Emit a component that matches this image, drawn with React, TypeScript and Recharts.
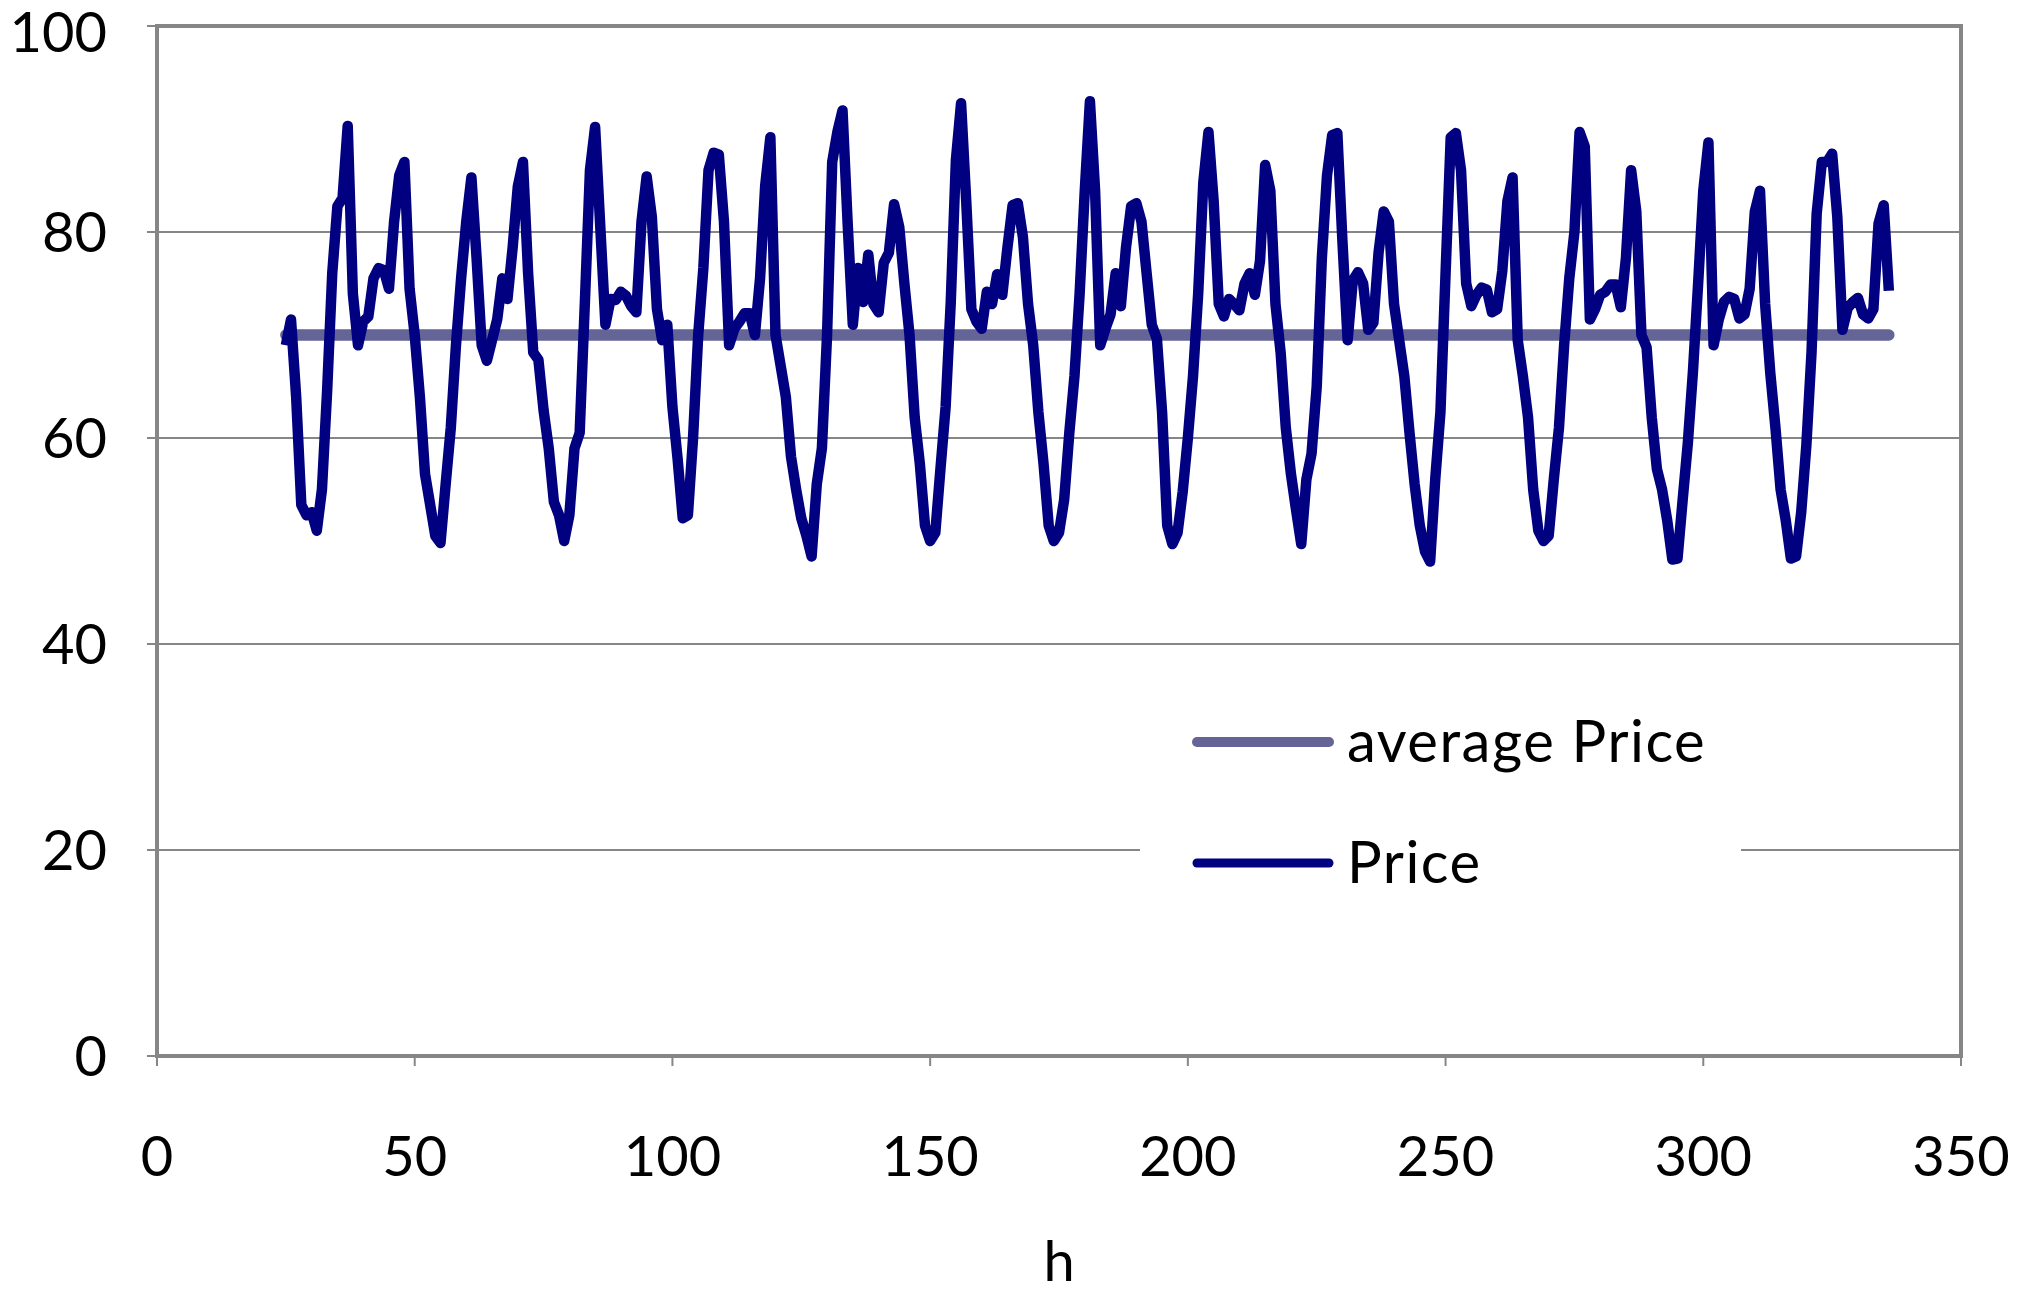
import React from 'react';
import {
  CartesianGrid, Legend, Line, LineChart, ReferenceArea, XAxis, YAxis,
} from 'recharts';

const firstHour = 25;

// hourly price, h = 25 … 336
const priceValues = [
  69, 71.5, 64, 53.5, 52.5, 52.8, 51, 55, 64.5, 76,
  82.5, 83.3, 90.3, 74, 69, 71.3, 71.8, 75.5, 76.5, 76.3,
  74.5, 81, 85.5, 86.8, 74.5, 70, 64, 56.5, 53.5, 50.5,
  49.8, 55.5, 61, 69, 75.5, 81, 85.3, 77.5, 69, 67.5,
  69.5, 71.5, 75.5, 73.5, 78.5, 84.4, 86.8, 76, 68.3, 67.6,
  62.7, 59, 53.8, 52.5, 50, 52.5, 59, 60.5, 73, 86,
  90.2, 80.5, 71, 73.5, 73.4, 74.2, 73.8, 72.8, 72.2, 81,
  85.4, 81.5, 72.5, 69.5, 71, 63, 58, 52.2, 52.5, 60,
  70, 76.5, 86, 87.7, 87.5, 81, 69, 70.6, 71.3, 72.1,
  72.1, 70, 75.5, 84.5, 89.2, 70, 67, 64, 58.2, 55,
  52.2, 50.5, 48.5, 55.5, 59, 70, 86.8, 89.7, 91.8, 80.8,
  71, 76.5, 73.2, 77.8, 73, 72.2, 77, 78, 82.7, 80.5,
  75, 70, 62, 57.5, 51.5, 50, 50.8, 57, 63, 73.2,
  87, 92.5, 83, 72.5, 71.3, 70.6, 74.2, 73, 75.9, 73.9,
  78.5, 82.6, 82.8, 79.5, 73, 69, 62.5, 57.5, 51.5, 50,
  50.8, 54, 60.5, 66, 74, 84, 92.7, 84, 69, 70.6,
  72, 76, 72.8, 78.5, 82.5, 82.8, 81, 76, 71, 69.6,
  62.5, 51.5, 49.7, 50.8, 54.8, 60, 66, 74, 84.8, 89.7,
  83, 73, 71.8, 73.5, 73, 72.4, 75, 76, 73.9, 77.2,
  86.5, 84, 73, 68.3, 61, 56.5, 53, 49.7, 56, 58.5,
  65, 77.5, 85.5, 89.4, 89.6, 79, 69.5, 75.3, 76.1, 75,
  70.5, 71.2, 78, 82, 81, 73, 69.5, 66, 60.5, 55.5,
  51.5, 49, 48, 56, 62.5, 76, 89.2, 89.6, 86, 75,
  72.8, 73.9, 74.6, 74.4, 72.2, 72.5, 76.2, 83, 85.3, 69.5,
  66, 62, 55, 51, 50, 50.5, 56, 61, 69, 75.5,
  80, 89.7, 88.3, 71.5, 72.5, 73.9, 74.2, 74.9, 74.9, 72.7,
  77.5, 86, 82, 70, 68.8, 62, 57, 55, 52, 48.2,
  48.3, 54, 59.5, 66.5, 75, 84, 88.7, 69, 71.5, 73.2,
  73.7, 73.5, 71.6, 72, 74.5, 82, 84, 73, 66.3, 61,
  55, 52, 48.3, 48.5, 52.8, 59.3, 68.3, 81.8, 86.8, 86.8,
  87.6, 81.5, 70.5, 72.6, 73.2, 73.6, 72, 71.6, 72.5, 80.8,
  82.6, 74.3,
];

const averagePrice = 70;

const xTicks = [0, 50, 100, 150, 200, 250, 300, 350];
const yTicks = [0, 20, 40, 60, 80, 100];
const seriesNames = ['average Price', 'Price'];

const data = priceValues.map((p, i) => ({ h: firstHour + i, avg: averagePrice, price: p }));

const GREY = '#868686';
const FONT = 56;

// legend box sits over the plot, covering the 20-gridline
function LegendBox({ payload }: any) {
  const rows = seriesNames
    .map((n) => (payload || []).find((p: any) => p.value === n))
    .filter(Boolean);
  return (
    <div style={{ background: '#fff', width: 601, height: 240 }}>
      <svg width={601} height={240}>
        {rows.map((r: any, i: number) => {
          const y = i === 0 ? 60 : 181;
          return (
            <g key={r.value}>
              <line x1={57} x2={189} y1={y} y2={y} stroke={r.color}
                strokeWidth={i === 0 ? 10 : 9} strokeLinecap="round" />
              <text x={207} y={y + 20} fontSize={58} letterSpacing={1.5} fill="#000"
                fontFamily="Lato">{r.value}</text>
            </g>
          );
        })}
      </svg>
    </div>
  );
}

export default function App() {
  return (
    <div style={{ position: 'absolute', left: 0, top: 0, background: '#fff' }}>
      <LineChart width={2019} height={1299} data={data}
        margin={{ top: 26, right: 58, bottom: 0, left: 0 }}
        style={{ fontFamily: 'Lato' }}>
        <CartesianGrid vertical={false} stroke={GREY} strokeWidth={2} />
        <ReferenceArea x1={0} x2={350} y1={0} y2={100} fill="none" fillOpacity={0}
          stroke={GREY} strokeWidth={4} ifOverflow="visible" />
        <XAxis dataKey="h" type="number" domain={[0, 350]} ticks={xTicks} height={243}
          axisLine={false} tickLine={{ stroke: GREY, strokeWidth: 2 }} tickSize={10} tickMargin={70}
          tick={{ fontSize: FONT, fill: '#000' }}
          label={{ value: 'h', position: 'insideBottom', offset: 18, fontSize: FONT, fill: '#000' }} />
        <YAxis type="number" domain={[0, 100]} ticks={yTicks} width={157}
          axisLine={false} tickLine={{ stroke: GREY, strokeWidth: 2 }} tickSize={10} tickMargin={40}
          tick={{ fontSize: FONT, fill: '#000' }} />
        <Legend layout="vertical" align="center" verticalAlign="middle" content={<LegendBox />}
          wrapperStyle={{ left: 1140, top: 682, width: 601, height: 240 }} />
        <Line dataKey="avg" name={seriesNames[0]} type="linear" stroke="#646496" strokeWidth={11.5}
          strokeLinecap="round" dot={false} activeDot={false} isAnimationActive={false} />
        <Line dataKey="price" name={seriesNames[1]} type="linear" stroke="#000080" strokeWidth={10.5}
          strokeLinejoin="round" dot={false} activeDot={false} isAnimationActive={false} />
      </LineChart>
    </div>
  );
}
